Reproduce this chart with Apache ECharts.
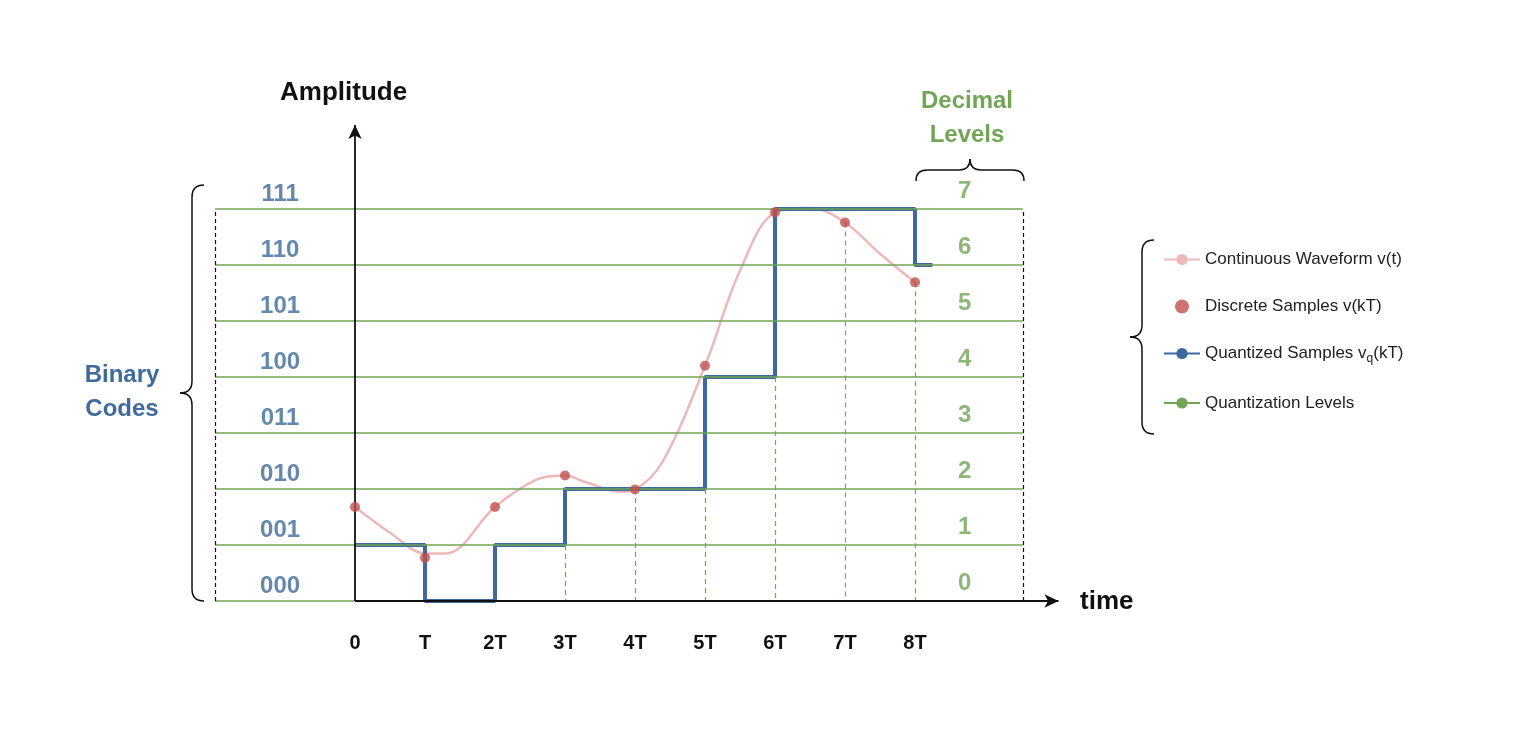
<!DOCTYPE html>
<html><head><meta charset="utf-8">
<script src="https://cdn.jsdelivr.net/npm/echarts@6/dist/echarts.min.js"></script>
<style>html,body{margin:0;background:#fff}#c{width:1536px;height:732px}</style>
</head><body><div id="c"></div>
<script>
const timeLabels = ['0','T','2T','3T','4T','5T','6T','7T','8T'];
const binaryCodes = ['000','001','010','011','100','101','110','111'];
const decimalLevels = ['0','1','2','3','4','5','6','7'];
const sampleValues = [1.68,0.77,1.68,2.24,1.99,4.2,6.94,6.76,5.69];
const quantized = [1,0,1,2,2,4,7,7,6];
const quantEndX = 8.25;
const waveX = [0,0.5,1,1.3,2,2.6,3,3.3,3.8,4,4.4,5,5.5,6,6.5,7,7.5,8];
const waveY = [1.68,1.22,0.85,0.85,1.68,2.17,2.24,2.12,1.95,1.99,2.5,4.2,5.9,6.94,7.02,6.76,6.2,5.69];
const dashFrom = [3,4,5,6,7,8];
const dashTops = [1,2,2,4,6.76,5.69];
const levelXmin = -2, levelXmax = 9.54;

const green = '#72a555', blueT = '#3f6a9b', blueL = '#3d68a0', red = '#c0504d', pink = '#ecb8b8';
const chart = echarts.init(document.getElementById('c'));
const qData = quantized.map((v,i)=>[i,v]); qData.push([quantEndX, quantized[quantized.length-1]]);
const levelLines = decimalLevels.map((d,i)=>[{coord:[levelXmin,i]},{coord:[levelXmax,i]}]);
const dashLines = dashFrom.map((x,i)=>[{coord:[x,dashTops[i]]},{coord:[x,0]}]);

const bs = {fill:null, stroke:'#111', lineWidth:1.5};
function vbrace(x, y1, y2, dir) { // dir -1: tip to left
  const ym = (y1+y2)/2, r = 12, d = 12*dir;
  return [
    {type:'bezierCurve', shape:{x1:x-d,y1:y1,cpx1:x,cpy1:y1,x2:x,y2:y1+r}, style:bs},
    {type:'line', shape:{x1:x,y1:y1+r,x2:x,y2:ym-r}, style:bs},
    {type:'bezierCurve', shape:{x1:x,y1:ym-r,cpx1:x,cpy1:ym,x2:x+d,y2:ym}, style:bs},
    {type:'bezierCurve', shape:{x1:x+d,y1:ym,cpx1:x,cpy1:ym,x2:x,y2:ym+r}, style:bs},
    {type:'line', shape:{x1:x,y1:ym+r,x2:x,y2:y2-r}, style:bs},
    {type:'bezierCurve', shape:{x1:x,y1:y2-r,cpx1:x,cpy1:y2,x2:x-d,y2:y2}, style:bs}
  ];
}
function hbrace(y, x1, x2) {
  const xm = (x1+x2)/2, r = 11;
  return [
    {type:'bezierCurve', shape:{x1:x1,y1:y+r,cpx1:x1,cpy1:y,x2:x1+r,y2:y}, style:bs},
    {type:'line', shape:{x1:x1+r,y1:y,x2:xm-r,y2:y}, style:bs},
    {type:'bezierCurve', shape:{x1:xm-r,y1:y,cpx1:xm,cpy1:y,x2:xm,y2:y-r}, style:bs},
    {type:'bezierCurve', shape:{x1:xm,y1:y-r,cpx1:xm,cpy1:y,x2:xm+r,y2:y}, style:bs},
    {type:'line', shape:{x1:xm+r,y1:y,x2:x2-r,y2:y}, style:bs},
    {type:'bezierCurve', shape:{x1:x2-r,y1:y,cpx1:x2,cpy1:y,x2:x2,y2:y+r}, style:bs}
  ];
}

chart.setOption({
  animation:false,
  grid:{left:215, top:125, width:843.5, height:476},
  xAxis:{type:'value', min:-2, max:10.05, interval:1, axisLine:{show:false}, axisTick:{show:false}, splitLine:{show:false},
    axisLabel:{margin:32, fontSize:20, fontWeight:'bold', color:'#111', fontFamily:'Liberation Sans',
      formatter:v=> (v>=0 && v<timeLabels.length && v===Math.round(v)) ? timeLabels[v] : ''}},
  yAxis:{type:'value', min:0, max:8.5, show:false},
  legend:{orient:'vertical', left:1158, top:246, itemGap:30, itemWidth:36, itemHeight:14,
    textStyle:{fontSize:17, color:'#222', fontFamily:'Liberation Sans', rich:{s:{fontSize:12, padding:[10,0,0,0], color:'#222'}}},
    formatter:n=> n==='Quantized Samples' ? 'Quantized Samples v{s|q}(kT)' : n,
    data:[{name:'Continuous Waveform v(t)'},{name:'Discrete Samples v(kT)'},{name:'Quantized Samples'},{name:'Quantization Levels'}]},
  series:[
    {name:'Quantization Levels', type:'line', data:[], lineStyle:{color:green,width:2}, itemStyle:{color:green}, symbol:'none',
      markLine:{silent:true, symbol:'none', label:{show:false}, lineStyle:{color:green, width:1.5, type:'solid'}, data:levelLines}},
    {name:'dash', type:'line', data:[], symbol:'none',
      markLine:{silent:true, symbol:'none', label:{show:false}, lineStyle:{color:green, width:1.2, type:[5,4]}, data:dashLines}},
    {name:'bounds', type:'line', data:[], symbol:'none',
      markLine:{silent:true, symbol:'none', label:{show:false}, lineStyle:{color:'#111', width:1.2, type:[4,3]},
        data:[[{coord:[levelXmin,0]},{coord:[levelXmin,7]}],[{coord:[levelXmax,0]},{coord:[levelXmax,7]}]]}},
    {name:'Continuous Waveform v(t)', type:'line', smooth:0.35, symbol:'none', data:waveX.map((x,i)=>[x,waveY[i]]),
      lineStyle:{color:pink, width:2.5}, itemStyle:{color:pink}, z:3},
    {name:'Quantized Samples', type:'line', step:'end', symbol:'none', data:qData, lineStyle:{color:blueL, width:4}, itemStyle:{color:blueL}, z:4},
    {name:'axes', type:'line', data:[], symbol:'none', z:5,
      markLine:{silent:true, symbol:['none','arrow'], symbolSize:[10,14], label:{show:false}, lineStyle:{color:'#111', width:1.8, type:'solid'},
        data:[[{coord:[0,0]},{coord:[10.05,0]}],[{coord:[0,0]},{coord:[0,8.5]}]]}},
    {name:'Discrete Samples v(kT)', type:'scatter', symbolSize:10, data:sampleValues.map((v,i)=>[i,v]), itemStyle:{color:red}, z:6},
    {name:'bin', type:'scatter', symbolSize:0, data:binaryCodes.map((b,i)=>[-1.07,i+0.27]),
      label:{show:true, position:'inside', formatter:p=>binaryCodes[p.dataIndex], fontSize:24, fontWeight:'bold', color:blueT, fontFamily:'Liberation Sans'}},
    {name:'dec', type:'scatter', symbolSize:0, data:decimalLevels.map((d,i)=>[8.71,i+0.32]),
      label:{show:true, position:'inside', formatter:p=>decimalLevels[p.dataIndex], fontSize:24, fontWeight:'bold', color:green, fontFamily:'Liberation Sans'}}
  ],
  graphic:[
    {type:'text', x:280, y:80, style:{text:'Amplitude', fontSize:26, fontWeight:'bold', fill:'#111', fontFamily:'Liberation Sans'}},
    {type:'text', x:1080, y:589, style:{text:'time', fontSize:26, fontWeight:'bold', fill:'#111', fontFamily:'Liberation Sans'}},
    {type:'text', x:967, y:84, style:{text:'Decimal\nLevels', align:'center', lineHeight:34, fontSize:24, fontWeight:'bold', fill:green, fontFamily:'Liberation Sans'}},
    {type:'text', x:122, y:358, style:{text:'Binary\nCodes', align:'center', lineHeight:34, fontSize:24, fontWeight:'bold', fill:blueT, fontFamily:'Liberation Sans'}},
    ...vbrace(192, 185, 601, -1),
    ...hbrace(170, 916, 1024),
    ...vbrace(1142, 240, 434, -1)
  ]
});
</script></body></html>
